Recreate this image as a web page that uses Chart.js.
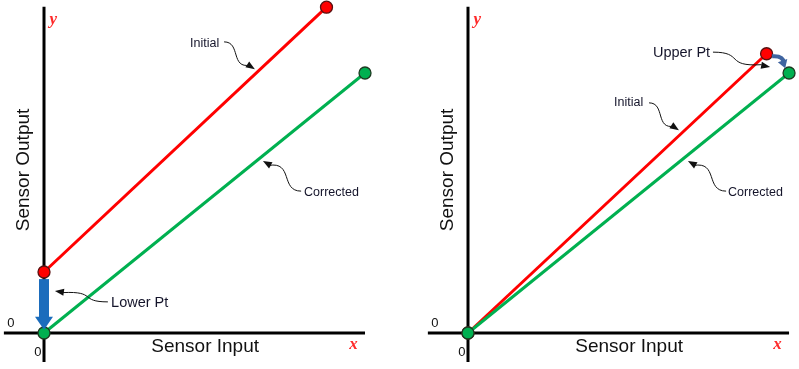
<!DOCTYPE html>
<html>
<head>
<meta charset="utf-8">
<script src="https://cdn.jsdelivr.net/npm/chart.js@4"></script>
<style>
  body { margin: 0; background: #fff; }
  .wrap { position: relative; width: 799px; height: 369px; }
  canvas { position: absolute; top: 0; }
</style>
</head>
<body>
<div class="wrap">
  <canvas id="leftChart" width="400" height="369" style="left:0"></canvas>
  <canvas id="rightChart" width="399" height="369" style="left:400px"></canvas>
</div>
<script>
// data (arbitrary units, corrected line ends at x = 100)
const leftInitialX = [0, 88];
const leftInitialY = [19, 101.5];
const leftCorrectedX = [0, 100];
const leftCorrectedY = [0, 81];

const rightInitialX = [0, 93];
const rightInitialY = [0, 87];
const rightCorrectedX = [0, 100];
const rightCorrectedY = [0, 81];

const axisXRange = [-12.5, 100];
const axisYRange = [-9, 101.6];

const xTitle = 'Sensor Input';
const yTitle = 'Sensor Output';

const pts = (xs, ys) => xs.map((x, i) => ({ x: x, y: ys[i] }));

// annotation callouts: text, text anchor, arrow start, arrow tip (data units)
const leftNotes = [
  { text: 'Initial', size: 12.5, at: [45.5, 90.3], from: [56.1, 90.7], to: [65.7, 82.2] },
  { text: 'Corrected', size: 12.5, at: [81, 43.9], from: [80.1, 44.2], to: [68.2, 53.6] },
  { text: 'Lower Pt', size: 14.5, at: [20.9, 9.3], from: [19.9, 9.7], to: [3.4, 13.1] }
];
const rightNotes = [
  { text: 'Upper Pt', size: 14.5, at: [57.6, 87.2], from: [76.3, 87.5], to: [94.1, 82.9] },
  { text: 'Initial', size: 12.5, at: [45.5, 71.7], from: [56.4, 71.7], to: [65.7, 63.2] },
  { text: 'Corrected', size: 12.5, at: [81, 43.9], from: [80.4, 44.2], to: [68.5, 53.6] }
];

function arrowHead(ctx, tip, dir, len, wid, color) {
  const a = Math.atan2(dir[1], dir[0]);
  ctx.save();
  ctx.translate(tip[0], tip[1]);
  ctx.rotate(a);
  ctx.fillStyle = color;
  ctx.beginPath();
  ctx.moveTo(0, 0);
  ctx.lineTo(-len, -wid / 2);
  ctx.lineTo(-len, wid / 2);
  ctx.closePath();
  ctx.fill();
  ctx.restore();
}

function makeDecor(notes, shift) {
  return {
    id: 'decor',
    afterDraw(chart) {
      const ctx = chart.ctx;
      const sx = chart.scales.x, sy = chart.scales.y;
      const P = (v) => [sx.getPixelForValue(v[0]), sy.getPixelForValue(v[1])];
      ctx.save();

      // blue shift arrow
      if (shift.type === 'straight') {
        const a = P(shift.from), b = P(shift.to);
        ctx.fillStyle = '#1b6cbc';
        ctx.fillRect(a[0] - 5, a[1], 10, b[1] - a[1] - 12);
        ctx.beginPath();
        ctx.moveTo(a[0] - 9, b[1] - 13);
        ctx.lineTo(a[0] + 9, b[1] - 13);
        ctx.lineTo(a[0], b[1]);
        ctx.closePath();
        ctx.fill();
      } else {
        const a = P(shift.from), b = P(shift.to);
        const c = [b[0] - 2, a[1] - 1];
        ctx.strokeStyle = '#3f64a0';
        ctx.lineWidth = 4;
        ctx.beginPath();
        ctx.moveTo(a[0], a[1]);
        ctx.quadraticCurveTo(c[0], c[1], b[0] - 1, b[1] - 5);
        ctx.stroke();
        arrowHead(ctx, b, [0.35, 1], 8, 10, '#3f64a0');
      }

      // callouts
      ctx.textBaseline = 'middle';
      ctx.textAlign = 'left';
      notes.forEach(n => {
        const t = P(n.at), s = P(n.from), e = P(n.to);
        ctx.font = n.size + 'px "Liberation Sans", Arial, sans-serif';
        ctx.fillStyle = '#14142a';
        ctx.fillText(n.text, t[0], t[1]);
        const dx = e[0] - s[0], dy = e[1] - s[1];
        const c1 = [s[0] + dx * 0.55, s[1]];
        const c2 = [s[0] + dx * 0.2, e[1]];
        ctx.strokeStyle = '#111';
        ctx.lineWidth = 1;
        ctx.beginPath();
        ctx.moveTo(s[0], s[1]);
        ctx.bezierCurveTo(c1[0], c1[1], c2[0], c2[1], e[0] - dx * 0.15, e[1] - dy * 0.15);
        ctx.stroke();
        arrowHead(ctx, e, [dx * 0.7, dy * 0.5], 9, 7, '#111');
      });

      // axis labels
      ctx.fillStyle = '#111';
      ctx.font = '19px "Liberation Sans", Arial, sans-serif';
      ctx.textAlign = 'center';
      let p = P([50.2, -4.4]);
      ctx.fillText(xTitle, p[0], p[1]);
      p = P([-6.2, 50.8]);
      ctx.save();
      ctx.translate(p[0], p[1]);
      ctx.rotate(-Math.PI / 2);
      ctx.fillText(yTitle, 0, 0);
      ctx.restore();

      ctx.font = '13px "Liberation Sans", Arial, sans-serif';
      p = P([-10.3, 3.1]);
      ctx.fillText('0', p[0], p[1]);
      p = P([-1.9, -5.9]);
      ctx.fillText('0', p[0], p[1]);

      ctx.fillStyle = '#ff2a2a';
      ctx.font = 'italic bold 17px "Liberation Serif", "Times New Roman", serif';
      p = P([2.9, 97.5]);
      ctx.fillText('y', p[0], p[1]);
      p = P([96.4, -3.7]);
      ctx.fillText('x', p[0], p[1]);

      ctx.restore();
    }
  };
}

function makeChart(id, initial, corrected, xRange, yRange, notes, shift) {
  const ctx = document.getElementById(id).getContext('2d');
  return new Chart(ctx, {
    type: 'scatter',
    data: {
      datasets: [
        {
          label: 'Corrected',
          data: corrected,
          showLine: true,
          borderColor: '#00b050',
          backgroundColor: '#00b050',
          borderWidth: 3,
          pointRadius: 6,
          pointBorderColor: '#1d3b22',
          pointBorderWidth: 1.3,
          order: 0
        },
        {
          label: 'Initial',
          data: initial,
          showLine: true,
          borderColor: '#ff0000',
          backgroundColor: '#ff0000',
          borderWidth: 3,
          pointRadius: 6,
          pointBorderColor: '#5a1010',
          pointBorderWidth: 1.3,
          order: 1
        },
        {
          label: 'xAxis',
          data: [{ x: axisXRange[0], y: 0 }, { x: axisXRange[1], y: 0 }],
          showLine: true,
          borderColor: '#000',
          borderWidth: 3,
          pointRadius: 0,
          order: 2
        },
        {
          label: 'yAxis',
          data: [{ x: 0, y: axisYRange[0] }, { x: 0, y: axisYRange[1] }],
          showLine: true,
          borderColor: '#000',
          borderWidth: 3,
          pointRadius: 0,
          order: 2
        }
      ]
    },
    options: {
      responsive: false,
      animation: false,
      layout: { padding: 0, autoPadding: false },
      plugins: { legend: { display: false }, tooltip: { enabled: false } },
      scales: {
        x: { type: 'linear', display: false, min: xRange[0], max: xRange[1] },
        y: { type: 'linear', display: false, min: yRange[0], max: yRange[1] }
      }
    },
    plugins: [makeDecor(notes, shift)]
  });
}

makeChart('leftChart',
  pts(leftInitialX, leftInitialY), pts(leftCorrectedX, leftCorrectedY),
  [-13.71, 110.9], [-11.21, 103.74], leftNotes,
  { type: 'straight', from: [0, 16.8], to: [0, 1] });

makeChart('rightChart',
  pts(rightInitialX, rightInitialY), pts(rightCorrectedX, rightCorrectedY),
  [-21.18, 103.1], [-11.21, 103.74], rightNotes,
  { type: 'curve', from: [94.7, 86.2], to: [98.8, 82.5] });
</script>
</body>
</html>
